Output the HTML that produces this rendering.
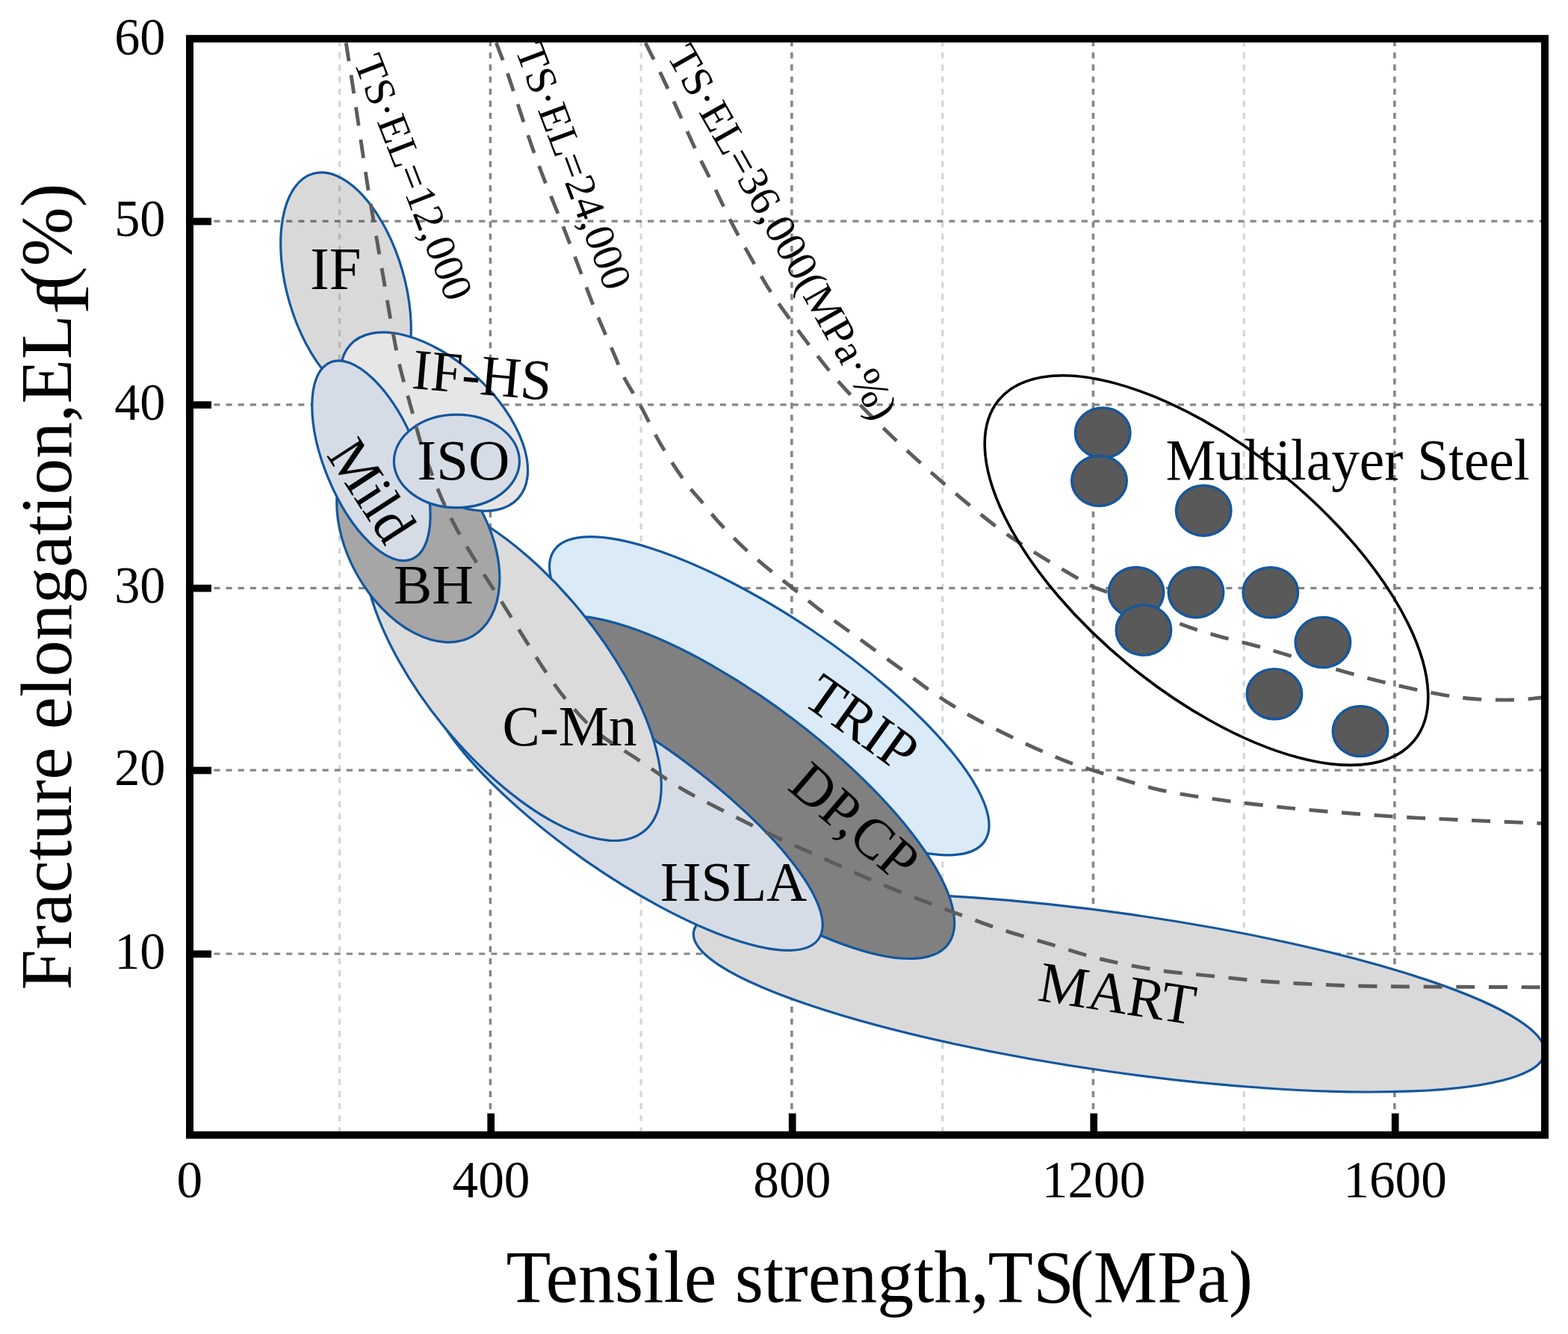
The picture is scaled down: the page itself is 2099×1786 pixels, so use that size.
<!DOCTYPE html>
<html lang="en"><head><meta charset="utf-8"><title>Tensile strength vs fracture elongation</title>
<style>
html,body{margin:0;padding:0;background:#fff;}
body{width:2099px;height:1786px;overflow:hidden;font-family:"Liberation Serif",serif;}
svg{display:block;}
</style></head><body>
<svg width="2099" height="1786" viewBox="0 0 2099 1786">
<rect x="0" y="0" width="2099" height="1786" fill="#fff"/>
<g fill="none" stroke-width="3.5">
<line x1="454.6" y1="54" x2="454.6" y2="1515.6" stroke="#d6d6d6" stroke-width="3.2" stroke-dasharray="8.1 8.07"/>
<line x1="858.1" y1="54" x2="858.1" y2="1515.6" stroke="#d6d6d6" stroke-width="3.2" stroke-dasharray="8.1 8.07"/>
<line x1="1261.7" y1="54" x2="1261.7" y2="1515.6" stroke="#d6d6d6" stroke-width="3.2" stroke-dasharray="8.1 8.07"/>
<line x1="1665.2" y1="54" x2="1665.2" y2="1515.6" stroke="#d6d6d6" stroke-width="3.2" stroke-dasharray="8.1 8.07"/>
<line x1="656.4" y1="54" x2="656.4" y2="1515.6" stroke="#858585" stroke-dasharray="8.1 8.07"/>
<line x1="1059.9" y1="54" x2="1059.9" y2="1515.6" stroke="#858585" stroke-dasharray="8.1 8.07"/>
<line x1="1463.4" y1="54" x2="1463.4" y2="1515.6" stroke="#858585" stroke-dasharray="8.1 8.07"/>
<line x1="1866.9" y1="54" x2="1866.9" y2="1515.6" stroke="#858585" stroke-dasharray="8.1 8.07"/>
<line x1="286.4" y1="296.2" x2="2064.0" y2="296.2" stroke="#858585" stroke-width="3.2" stroke-dasharray="8.1 8.03"/>
<line x1="286.4" y1="541.8" x2="2064.0" y2="541.8" stroke="#858585" stroke-width="3.2" stroke-dasharray="8.1 8.03"/>
<line x1="286.4" y1="787.3" x2="2064.0" y2="787.3" stroke="#858585" stroke-width="3.2" stroke-dasharray="8.1 8.03"/>
<line x1="286.4" y1="1031.2" x2="2064.0" y2="1031.2" stroke="#858585" stroke-width="3.2" stroke-dasharray="8.1 8.03"/>
<line x1="286.4" y1="1277.0" x2="2064.0" y2="1277.0" stroke="#858585" stroke-width="3.2" stroke-dasharray="8.1 8.03"/>
</g>
<ellipse cx="0" cy="0" rx="575.3" ry="106.1" transform="translate(1498.0 1329.2) rotate(8.12)" fill="#d9d9d9" stroke="#13579f" stroke-width="3.2" />
<ellipse cx="0" cy="0" rx="347.8" ry="104.9" transform="translate(1029.8 931.7) rotate(34.01)" fill="#daeaf7" stroke="#13579f" stroke-width="3.2" />
<ellipse cx="0" cy="0" rx="348.9" ry="115.5" transform="translate(990.7 1053.9) rotate(37.06)" fill="#808080" stroke="#13579f" stroke-width="3.2" />
<ellipse cx="0" cy="0" rx="316.1" ry="92.7" transform="translate(836.7 1076.1) rotate(34.94)" fill="#d6dce5" stroke="#13579f" stroke-width="3.2" />
<ellipse cx="0" cy="0" rx="279.3" ry="119.7" transform="translate(686.1 896.0) rotate(50.89)" fill="#dbdbdb" stroke="#13579f" stroke-width="3.2" />
<ellipse cx="0" cy="0" rx="147.1" ry="93.6" transform="translate(559.8 723.8) rotate(60.47)" fill="#a6a6a6" stroke="#13579f" stroke-width="3.2" />
<ellipse cx="0" cy="0" rx="157.1" ry="78.5" transform="translate(463.0 383.3) rotate(73.70)" fill="#000" stroke="#13579f" stroke-width="3.2" fill-opacity="0.15"/>
<ellipse cx="0" cy="0" rx="152.3" ry="82.6" transform="translate(581.2 564.5) rotate(42.50)" fill="#e7e6e6" stroke="#13579f" stroke-width="3.2" />
<ellipse cx="0" cy="0" rx="142.6" ry="62.1" transform="translate(496.9 616.7) rotate(67.52)" fill="#d6dce5" stroke="#13579f" stroke-width="3.2" />
<ellipse cx="0" cy="0" rx="84.0" ry="62.2" transform="translate(611.4 617.4) rotate(0.00)" fill="#d6dce5" stroke="#13579f" stroke-width="3.2" />
<g fill="none" stroke="#5c5c5c" stroke-width="4.9" stroke-dasharray="25 18.6">
<path d="M463.2 57.4 C464.6 66.6 468.4 90.2 471.8 112.4 C475.2 134.6 480.0 167.8 483.4 190.5 C486.8 213.2 489.3 230.8 492.1 248.4 C494.9 266.0 496.8 276.4 500.2 296.2 C503.6 316.0 508.4 344.1 512.4 367.0 C516.4 389.9 520.0 412.9 523.9 433.6 C527.8 454.4 530.8 471.8 535.5 491.5 C540.2 511.2 547.2 534.3 552.1 552.1 C557.0 569.9 559.0 580.1 565.1 598.4 C571.2 616.7 581.0 643.3 589.0 662.1 C597.0 680.9 604.1 694.9 613.0 711.3 C621.9 727.7 633.2 745.5 642.5 760.5 C651.8 775.5 658.1 784.6 668.5 801.0 C678.9 817.4 693.9 842.0 704.6 858.9 C715.3 875.8 723.2 888.8 732.5 902.3 C741.8 915.8 749.2 926.8 760.5 939.9 C771.8 953.0 785.0 968.5 800.0 981.0 C815.0 993.5 832.1 1002.4 850.7 1014.8 C869.3 1027.2 891.7 1043.5 911.4 1055.3 C931.1 1067.1 948.0 1075.0 968.8 1085.7 C989.6 1096.4 1013.9 1108.8 1036.4 1119.5 C1058.9 1130.2 1081.4 1139.8 1103.9 1149.9 C1126.4 1160.0 1148.9 1170.7 1171.4 1180.3 C1193.9 1189.9 1221.0 1200.3 1239.0 1207.3 C1257.0 1214.3 1262.6 1216.3 1279.5 1222.5 C1296.4 1228.7 1318.9 1237.4 1340.3 1244.4 C1361.7 1251.4 1385.6 1258.1 1407.8 1264.7 C1430.0 1271.3 1450.4 1278.4 1473.7 1284.0 C1497.0 1289.6 1522.8 1294.7 1547.4 1298.5 C1572.0 1302.3 1596.5 1304.0 1621.1 1306.6 C1645.7 1309.2 1670.2 1312.1 1694.8 1314.0 C1719.4 1315.9 1743.9 1317.1 1768.5 1318.2 C1793.1 1319.3 1811.5 1320.0 1842.2 1320.5 C1872.9 1321.0 1915.8 1321.1 1952.7 1321.3 C1989.6 1321.5 2044.9 1321.6 2063.3 1321.7"/>
<path d="M664.3 57.4 C666.5 63.2 672.7 79.0 677.3 92.0 C681.9 105.0 686.0 118.1 691.8 135.5 C697.6 152.9 705.8 178.5 712.1 196.3 C718.4 214.2 722.9 225.9 729.4 242.6 C735.9 259.2 743.9 277.9 751.1 296.2 C758.4 314.5 765.4 333.1 772.9 352.6 C780.4 372.1 787.8 393.1 796.0 413.4 C804.2 433.7 815.5 458.8 822.1 474.2 C828.7 489.6 829.8 494.3 835.7 505.8 C841.6 517.3 849.3 528.4 857.5 543.4 C865.7 558.4 875.0 578.6 884.9 595.5 C894.8 612.4 907.6 631.9 916.8 644.7 C926.0 657.5 932.5 663.5 940.0 672.5 C947.5 681.5 952.7 688.8 961.5 698.5 C970.3 708.2 982.4 720.7 993.0 730.8 C1003.6 740.9 1014.1 749.6 1025.3 758.9 C1036.5 768.2 1047.3 776.4 1060.0 786.5 C1072.7 796.6 1086.0 807.7 1101.3 819.4 C1116.6 831.1 1134.7 843.9 1152.0 856.5 C1169.3 869.1 1187.9 882.4 1205.2 895.0 C1222.5 907.6 1239.0 920.9 1255.9 932.1 C1272.8 943.4 1286.8 951.8 1306.5 962.5 C1326.2 973.2 1354.3 986.9 1374.0 996.2 C1393.7 1005.5 1410.0 1012.4 1424.7 1018.2 C1439.4 1024.0 1441.5 1024.7 1461.9 1031.0 C1482.4 1037.3 1520.9 1049.9 1547.4 1056.3 C1573.9 1062.7 1596.5 1065.5 1621.1 1069.2 C1645.7 1072.9 1670.2 1075.7 1694.8 1078.5 C1719.4 1081.3 1740.0 1083.3 1768.5 1085.8 C1797.0 1088.2 1835.4 1091.2 1866.1 1093.2 C1896.8 1095.2 1919.8 1096.1 1952.7 1097.6 C1985.6 1099.1 2044.9 1101.6 2063.3 1102.4"/>
<path d="M864.0 57.4 C867.1 63.7 876.3 81.5 882.8 95.0 C889.3 108.5 894.9 120.6 903.1 138.4 C911.3 156.2 923.3 183.7 932.0 202.0 C940.7 220.3 947.5 232.7 955.2 248.4 C962.9 264.1 970.1 280.3 978.3 296.2 C986.5 312.1 995.2 327.8 1004.4 343.9 C1013.6 360.0 1021.1 374.6 1033.3 393.1 C1045.5 411.6 1064.1 436.6 1077.7 454.7 C1091.3 472.8 1103.0 487.9 1114.8 502.0 C1126.6 516.1 1136.2 526.2 1148.6 539.1 C1161.0 552.0 1174.5 565.5 1189.1 579.6 C1203.7 593.7 1220.1 608.9 1236.4 623.5 C1252.7 638.1 1270.1 653.3 1287.0 667.4 C1303.9 681.5 1320.8 695.6 1337.7 708.0 C1354.6 720.4 1371.4 731.0 1388.3 741.7 C1405.2 752.4 1426.5 764.8 1439.0 772.1 C1451.5 779.4 1454.9 781.7 1463.3 785.6 C1471.7 789.5 1471.1 787.9 1489.6 795.8 C1508.0 803.7 1551.5 823.9 1574.0 832.9 C1596.5 841.9 1604.6 843.9 1624.7 849.8 C1644.8 855.7 1670.8 861.6 1694.8 868.4 C1718.8 875.2 1743.9 883.4 1768.5 890.5 C1793.1 897.6 1817.6 904.6 1842.2 910.8 C1866.8 916.9 1894.4 923.3 1915.9 927.4 C1937.4 931.5 1952.7 933.9 1971.1 935.5 C1989.5 937.1 2011.0 937.2 2026.4 937.0 C2041.8 936.8 2057.2 934.5 2063.3 934.0"/>
</g>
<ellipse cx="0" cy="0" rx="359.5" ry="163.8" transform="translate(1615.0 763.6) rotate(39.34)" fill="none" stroke="#000" stroke-width="3.6" />
<ellipse cx="1476.2" cy="579.5" rx="36.8" ry="33.6" fill="#595959" stroke="#13579f" stroke-width="3.4"/>
<ellipse cx="1471.5" cy="643.8" rx="36.8" ry="33.6" fill="#595959" stroke="#13579f" stroke-width="3.4"/>
<ellipse cx="1611.2" cy="683.6" rx="36.8" ry="33.6" fill="#595959" stroke="#13579f" stroke-width="3.4"/>
<ellipse cx="1521" cy="793.1" rx="36.8" ry="33.6" fill="#595959" stroke="#13579f" stroke-width="3.4"/>
<ellipse cx="1601" cy="793.1" rx="36.8" ry="33.6" fill="#595959" stroke="#13579f" stroke-width="3.4"/>
<ellipse cx="1700.8" cy="793.2" rx="36.8" ry="33.6" fill="#595959" stroke="#13579f" stroke-width="3.4"/>
<ellipse cx="1530.9" cy="843.5" rx="36.8" ry="33.6" fill="#595959" stroke="#13579f" stroke-width="3.4"/>
<ellipse cx="1770.9" cy="860" rx="36.8" ry="33.6" fill="#595959" stroke="#13579f" stroke-width="3.4"/>
<ellipse cx="1705.9" cy="929.2" rx="36.8" ry="33.6" fill="#595959" stroke="#13579f" stroke-width="3.4"/>
<ellipse cx="1821" cy="979" rx="36.8" ry="33.6" fill="#595959" stroke="#13579f" stroke-width="3.4"/>
<rect x="254.0" y="51.8" width="1814.0" height="1467.8" fill="none" stroke="#000" stroke-width="10"/>
<g stroke="#000" stroke-width="9.7">
<line x1="254.0" y1="296.5" x2="283.0" y2="296.5"/>
<line x1="254.0" y1="542.0999999999999" x2="283.0" y2="542.0999999999999"/>
<line x1="254.0" y1="787.5999999999999" x2="283.0" y2="787.5999999999999"/>
<line x1="254.0" y1="1031.5" x2="283.0" y2="1031.5"/>
<line x1="254.0" y1="1277.3" x2="283.0" y2="1277.3"/>
<line x1="657.2" y1="1519.6" x2="657.2" y2="1490.6"/>
<line x1="1060.7" y1="1519.6" x2="1060.7" y2="1490.6"/>
<line x1="1464.2" y1="1519.6" x2="1464.2" y2="1490.6"/>
<line x1="1867.7" y1="1519.6" x2="1867.7" y2="1490.6"/>
</g>
<g font-family="'Liberation Serif', serif" fill="#000">
<text x="153.2" y="316.1" font-size="70" textLength="68.2" lengthAdjust="spacingAndGlyphs">50</text>
<text x="153.2" y="561.7" font-size="70" textLength="68.2" lengthAdjust="spacingAndGlyphs">40</text>
<text x="153.2" y="807.2" font-size="70" textLength="68.2" lengthAdjust="spacingAndGlyphs">30</text>
<text x="153.2" y="1051.1" font-size="70" textLength="68.2" lengthAdjust="spacingAndGlyphs">20</text>
<text x="153.2" y="1296.9" font-size="70" textLength="68.2" lengthAdjust="spacingAndGlyphs">10</text>
<text x="153.2" y="72.5" font-size="70" textLength="68.2" lengthAdjust="spacingAndGlyphs">60</text>
<text x="236.5" y="1603.0" font-size="70" textLength="34.6" lengthAdjust="spacingAndGlyphs">0</text>
<text x="605.5" y="1603.0" font-size="70" textLength="104.0" lengthAdjust="spacingAndGlyphs">400</text>
<text x="1008.3" y="1603.0" font-size="70" textLength="104.0" lengthAdjust="spacingAndGlyphs">800</text>
<text x="1394.8" y="1603.0" font-size="70" textLength="138.6" lengthAdjust="spacingAndGlyphs">1200</text>
<text x="1798.3" y="1603.0" font-size="70" textLength="138.6" lengthAdjust="spacingAndGlyphs">1600</text>
<text font-size="100"><tspan x="677.5" y="1742.9" textLength="646.6" lengthAdjust="spacingAndGlyphs">Tensile strength,</tspan><tspan x="1322.6" y="1742.9" textLength="115.4" lengthAdjust="spacingAndGlyphs">TS</tspan><tspan x="1431.9" y="1742.9" textLength="245.2" lengthAdjust="spacingAndGlyphs">(MPa)</tspan></text>
<text transform="translate(95.0 1322.9) rotate(-90)" font-size="97.0"><tspan x="-2.6" y="0.0" textLength="904.0" lengthAdjust="spacingAndGlyphs">Fracture elongation,EL</tspan><tspan x="901.5" y="22.8" textLength="42.3" lengthAdjust="spacingAndGlyphs">f</tspan><tspan x="934.7" y="0.0" textLength="142.6" lengthAdjust="spacingAndGlyphs">(%)</tspan></text>
<text x="415.3" y="386.5" font-size="79.7" textLength="68.2" lengthAdjust="spacingAndGlyphs">IF</text>
<text x="558.6" y="642.3" font-size="75.7" textLength="123.8" lengthAdjust="spacingAndGlyphs">ISO</text>
<text x="526.9" y="807.9" font-size="74.8" textLength="106.8" lengthAdjust="spacingAndGlyphs">BH</text>
<text x="672.4" y="998.1" font-size="75.7" textLength="180.1" lengthAdjust="spacingAndGlyphs">C-Mn</text>
<text x="884.1" y="1206.3" font-size="74.8" textLength="196.3" lengthAdjust="spacingAndGlyphs">HSLA</text>
<text x="1560.5" y="641.6" font-size="77.6" textLength="487.2" lengthAdjust="spacingAndGlyphs">Multilayer Steel</text>
<text transform="translate(644.5 502.7) rotate(5)" x="-92.4" y="25.2" font-size="77.0" textLength="186.8" lengthAdjust="spacingAndGlyphs">IF-HS</text>
<text transform="translate(497.7 657.6) rotate(57)" x="-74.1" y="25.2" font-size="77.0" textLength="146.8" lengthAdjust="spacingAndGlyphs">Mild</text>
<text transform="translate(1143.5 1100.3) rotate(40.5)" x="-98.2" y="25.2" font-size="77.0" textLength="197.2" lengthAdjust="spacingAndGlyphs">DP,CP</text>
<text transform="translate(1152.6 967.8) rotate(35.5)" x="-80.9" y="25.2" font-size="77.0" textLength="163.5" lengthAdjust="spacingAndGlyphs">TRIP</text>
<text transform="translate(1496.4 1330.9) rotate(9)" x="-106.2" y="25.2" font-size="77.0" textLength="211.3" lengthAdjust="spacingAndGlyphs">MART</text>
<text transform="translate(553.0 237.0) rotate(68.8)" x="-173.5" y="18.5" font-size="56.5" textLength="347.8" lengthAdjust="spacingAndGlyphs">TS·EL=12,000</text>
<text transform="translate(767.4 222.1) rotate(69.5)" x="-173.5" y="18.5" font-size="56.5" textLength="347.8" lengthAdjust="spacingAndGlyphs">TS·EL=24,000</text>
<text transform="translate(1047.2 310.4) rotate(60.5)" x="-282.3" y="18.8" font-size="57.3" textLength="565.8" lengthAdjust="spacingAndGlyphs">TS·EL=36,000(MPa·%)</text>
</g>
</svg>
</body></html>
